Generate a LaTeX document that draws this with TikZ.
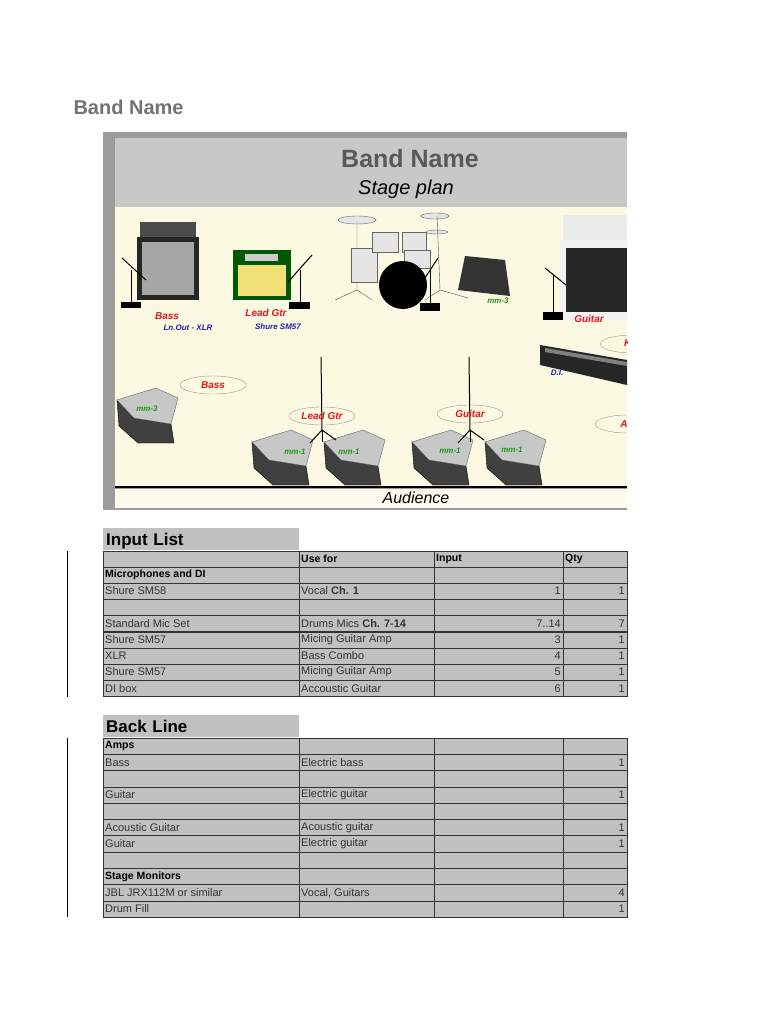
\documentclass[tikz,border=0pt]{standalone}
\usepackage{fontspec}
\setmainfont{Liberation Sans}
\usetikzlibrary{shapes.geometric}
\definecolor{cellgray}{HTML}{C0C0C0}
\definecolor{framegray}{HTML}{9C9C9C}
\definecolor{headgray}{HTML}{C8C8C8}
\definecolor{cream}{HTML}{FBF9E1}
\definecolor{txtgray}{HTML}{333333}
\definecolor{lbred}{HTML}{E8141C}
\definecolor{lbblue}{HTML}{2020B0}
\definecolor{lbgreen}{HTML}{1A9A1A}
\tikzset{
  cell/.style={draw=black!80,fill=cellgray,line width=0.8pt},
  ctext/.style={anchor=west,inner sep=2pt,text=txtgray,font=\fontsize{11}{12}\selectfont},
  rtext/.style={anchor=east,inner sep=2pt,text=txtgray,font=\fontsize{11}{12}\selectfont},
  redlab/.style={text=lbred,font=\bfseries\itshape\fontsize{10}{11}\selectfont,inner sep=0pt},
  bluelab/.style={text=lbblue,font=\bfseries\itshape\fontsize{8}{9}\selectfont,inner sep=0pt},
  greenlab/.style={text=lbgreen,font=\bfseries\itshape\fontsize{8}{9}\selectfont,inner sep=0pt},
  oval/.style={ellipse,draw=black!40,minimum width=66pt,minimum height=18pt,inner sep=0pt,text=lbred,font=\bfseries\itshape\fontsize{10}{11}\selectfont},
  wedge/.style={fill=black!75,draw=black},
  wedgetop/.style={fill=black!22,draw=black!60},
  stand/.style={draw=black,line width=1pt},
  sechead/.style={fill=cellgray,anchor=north west,minimum width=196pt,minimum height=22pt,inner sep=2pt,text depth=0pt,font=\bfseries\fontsize{17}{19}\selectfont}
}
\begin{document}
\begin{tikzpicture}[x=1pt,y=-1pt]
\useasboundingbox[fill=white] (0,0) rectangle (768,1024);
\node[anchor=west,text=black!55,font=\bfseries\fontsize{20}{22}\selectfont] (title) at (70,107) {Band Name};
% stage frame
\fill[framegray] (103,132) rectangle (627,510);
\begin{scope}
\clip (115,138) rectangle (627,508);
\fill[headgray] (115,138) rectangle (627,207);
\fill[cream] (115,207) rectangle (627,487);
\fill[cream!60!white] (115,489) rectangle (627,508);
\draw[line width=2pt] (115,487) -- (627,487);
% bass amp
\fill[black!70] (140,222) rectangle (196,237);
\fill[black!85] (137,237) rectangle (199,300);
\fill[black!35] (142,242) rectangle (194,295);
\draw[stand] (122,258) -- (146,280); \draw[stand] (131,270) -- (131,305); \fill[black] (121,302) rectangle (141,308);
% lead gtr combo
\fill[green!35!black] (233,250) rectangle (291,300);
\fill[brown!40!yellow!60] (238,265) rectangle (286,296);
\fill[white!80!black] (245,254) rectangle (278,261);
\draw[stand] (312,255) -- (288,282); \draw[stand] (300,270) -- (300,307); \fill[black] (289,302) rectangle (310,309);
% drums
\draw[black!60,fill=black!10] (357,220) ellipse (19 and 4);
\draw[black!60,fill=black!10] (435,216) ellipse (14 and 3);
\draw[black!60,fill=black!10] (437,232) ellipse (11 and 2);
\draw[black!70] (357,222) -- (357,290) -- (335,300); \draw[black!70] (357,290) -- (372,300);
\draw[black!70] (437,216) -- (440,290) -- (425,300); \draw[black!70] (440,290) -- (468,298);
\draw[black!60,fill=white!90!black] (351,248) rectangle (377,282);
\draw[black!60,fill=white!90!black] (372,232) rectangle (398,252);
\draw[black!60,fill=white!90!black] (402,232) rectangle (426,252);
\draw[black!60,fill=white!90!black] (404,250) rectangle (430,268);
\node[circle,fill=black,minimum size=48pt,inner sep=0pt] (kick) at (403,285) {};
\draw[stand] (438,258) -- (425,278); \draw[stand] (430,270) -- (430,305); \fill[black] (420,303) rectangle (440,311);
% monitor mm-3
\fill[black!80] (465,256) -- (505,260) -- (510,296) -- (458,290) -- cycle;
% marshall
\fill[white!92!black] (563,215) rectangle (627,256);
\fill[white!95!black] (560,240) rectangle (627,320);
\fill[black!85] (566,248) rectangle (627,312);
\draw[stand] (545,268) -- (566,285); \draw[stand] (553,275) -- (553,315); \fill[black] (543,312) rectangle (563,320);
% keyboard
\fill[black!85] (540,345) -- (627,360) -- (627,385) -- (540,365) -- cycle;
\fill[black!50] (545,348) -- (627,362) -- (627,366) -- (545,352) -- cycle;
% floor wedges
\foreach \x/\y in {116/388,251/430,323/430,411/430,484/430}{
  \fill[wedge] (\x+1,\y+12) -- (\x+18,\y+30) -- (\x+55,\y+36) -- (\x+58,\y+55) -- (\x+22,\y+55) -- (\x+3,\y+38) -- cycle;
  \fill[wedgetop] (\x+1,\y+12) -- (\x+40,\y) -- (\x+62,\y+10) -- (\x+55,\y+36) -- (\x+18,\y+30) -- cycle;
}
% vocal mic stands
\foreach \x in {322,470}{
  \draw[stand] (\x-1,357) -- (\x,430); \draw[stand] (\x,430) -- (\x-12,443); \draw[stand] (\x,430) -- (\x+14,440); \draw[stand] (\x,430)--(\x,442);
}
\node[oval] (obass) at (213,385) {Bass};
\node[oval] (olead) at (322,416) {Lead Gtr};
\node[oval] (ogtr) at (470,414) {Guitar};
\node[oval,anchor=west] (oke) at (600,344) {Key};
\node[oval,anchor=west] (oac) at (595,424) {Ac.};
\node[redlab] (lbass) at (167,316) {Bass};
\node[bluelab] (lbassb) at (188,328) {Ln.Out - XLR};
\node[redlab] (llead) at (266,313) {Lead Gtr};
\node[bluelab] (lleadb) at (278,327) {Shure SM57};
\node[greenlab] (lmm3) at (498,301) {mm-3};
\node[redlab] (lgtr) at (589,319) {Guitar};
\node[bluelab] (ldj) at (557,373) {D.I.};
\node[greenlab] (w1) at (147,409) {mm-3};
\node[greenlab] (w2) at (295,452) {mm-1};
\node[greenlab] (w3) at (349,452) {mm-1};
\node[greenlab] (w4) at (450,451) {mm-1};
\node[greenlab] (w5) at (512,450) {mm-1};
\end{scope}
\node[font=\bfseries\fontsize{25}{28}\selectfont,text=black!65] (bn) at (410,159) {Band Name};
\node[font=\itshape\fontsize{20}{22}\selectfont] (sp) at (406,189) {Stage plan};
\node[font=\itshape\fontsize{16}{18}\selectfont] (aud) at (416,498) {Audience};
% ===== Input list
\node[sechead,text width=190pt] (ilh) at (103,528) {Input List};
\draw[line width=1pt] (67,551) -- (67,697);
\foreach \t [count=\i] in {551,567,583,599,615,632,648,664,680}{
  \foreach \a/\b in {103/299,299/434,434/563,563/627}{
    \draw[cell] (\a,\t) rectangle (\b,\t+16.3);
  }
}
\node[ctext,font=\bfseries\fontsize{10.5}{12}\selectfont,text=black] (h1) at (299,559) {Use for};
\node[ctext,font=\bfseries\fontsize{10.5}{12}\selectfont,text=black] (h2) at (434,559) {Input};
\node[ctext,font=\bfseries\fontsize{10.5}{12}\selectfont,text=black] (h3) at (563,559) {Qty};
\node[ctext,font=\bfseries\fontsize{10.5}{12}\selectfont,text=black] (h4) at (103,575) {Microphones and DI};
\foreach \y/\a/\b/\c/\d [count=\i] in {591/Shure SM58/{Vocal \textbf{Ch. 1}}/1/1,
  623.5/Standard Mic Set/{Drums Mics \textbf{Ch. 7-14}}/7..14/7,
  640/Shure SM57/Micing Guitar Amp/3/1,
  656/XLR/Bass Combo/4/1,
  672/Shure SM57/Micing Guitar Amp/5/1,
  688.5/DI box/Accoustic Guitar/6/1}{
  \node[ctext] (ia\i) at (103,\y) {\a};
  \node[ctext] (ib\i) at (299,\y) {\b};
  \node[rtext] (ic\i) at (563,\y) {\c};
  \node[rtext] (id\i) at (627,\y) {\d};
}
% ===== Back line
\node[sechead,text width=190pt] (blh) at (103,715) {Back Line};
\draw[line width=1pt] (67,738) -- (67,917);
\foreach \t in {738,754.3,770.6,786.9,803.2,819.5,835.8,852.1,868.4,884.7,901}{
  \foreach \a/\b in {103/299,299/434,434/563,563/627}{
    \draw[cell] (\a,\t) rectangle (\b,\t+16.3);
  }
}
\node[ctext,font=\bfseries\fontsize{10.5}{12}\selectfont,text=black] (amps) at (103,746) {Amps};
\node[ctext,font=\bfseries\fontsize{10.5}{12}\selectfont,text=black] (stm) at (103,876.5) {Stage Monitors};
\foreach \y/\a/\b/\d [count=\i] in {762.5/Bass/Electric bass/1,
  795/Guitar/Electric guitar/1,
  827.5/Acoustic Guitar/Acoustic guitar/1,
  844/Guitar/Electric guitar/1,
  892.8/JBL JRX112M or similar/{Vocal, Guitars}/4,
  909/Drum Fill//1}{
  \node[ctext] (ba\i) at (103,\y) {\a};
  \node[ctext] (bb\i) at (299,\y) {\b};
  \node[rtext] (bd\i) at (627,\y) {\d};
}
\end{tikzpicture}
\end{document}
